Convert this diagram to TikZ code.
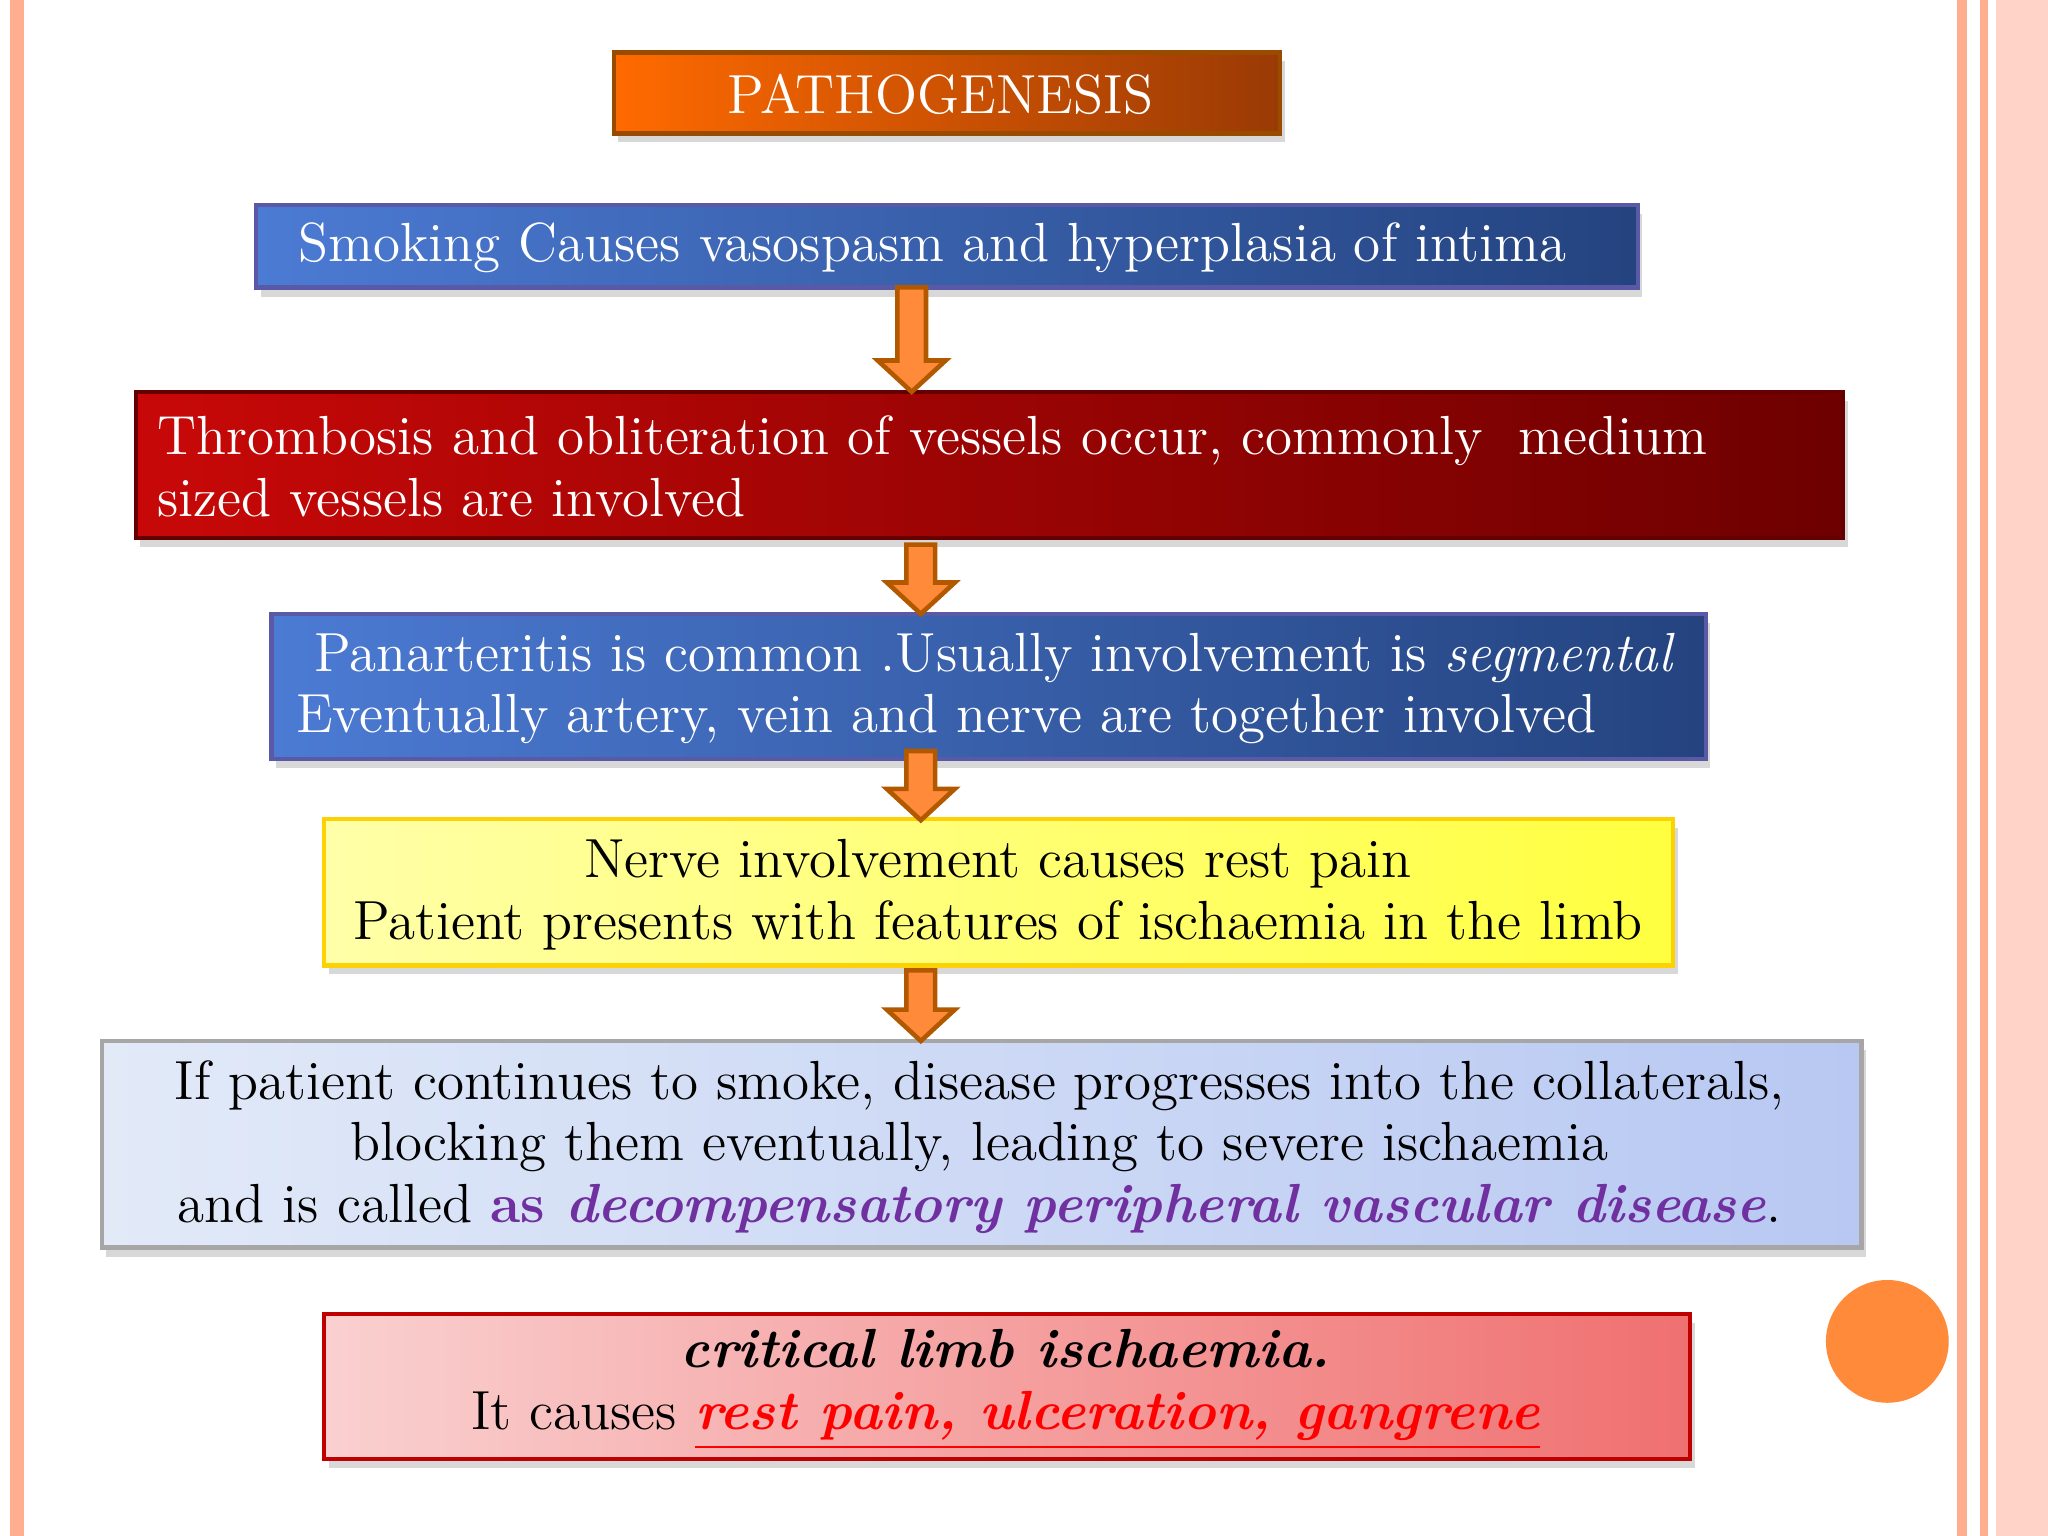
\documentclass[tikz,border=0pt]{standalone}
\usepackage{tikz}
\usetikzlibrary{shadows}
\begin{document}
\begin{tikzpicture}[x=0.01cm,y=-0.01cm,
 box/.style={draw=#1,line width=1pt,drop shadow={opacity=0.3,shadow xshift=1pt,shadow yshift=-2pt}},
 dn/.style={draw=orange!70!black,fill=orange!85!yellow,line width=1pt},
 txt/.style={font=\fontsize{12}{13.4}\selectfont,align=center,inner sep=0pt}]
\definecolor{pur}{HTML}{7030A0}
\definecolor{orA}{HTML}{FF6A00}\definecolor{orB}{HTML}{9A3A05}
\definecolor{blA}{HTML}{4C7BD4}\definecolor{blB}{HTML}{24437F}
\definecolor{rdA}{HTML}{C80808}\definecolor{rdB}{HTML}{6E0000}
\definecolor{yeA}{HTML}{FFFFA8}\definecolor{yeB}{HTML}{FFFF40}
\definecolor{lbA}{HTML}{E2EAF8}\definecolor{lbB}{HTML}{B8C8F2}
\definecolor{pkA}{HTML}{FAD0D0}\definecolor{pkB}{HTML}{F07070}
\definecolor{arr}{HTML}{FF8A3A}
\useasboundingbox (0,0) rectangle (1568,1176);
\fill[white] (0,0) rectangle (1568,1176);
\fill[orange!25!pink] (8,0) rectangle (18,1176);
\fill[orange!25!pink] (1498,0) rectangle (1506,1176);
\fill[orange!25!pink] (1516,0) rectangle (1522,1176);
\fill[orange!15!pink!60] (1528,0) rectangle (1568,1176);
\path[box=orange!60!black,left color=orA,right color=orB] (470,40) rectangle (980,102);
\node[txt,white] (t) at (720,72) {PATHOGENESIS};
\path[box=blue!30!gray,left color=blA,right color=blB] (196,157) rectangle (1254,220);
\node[txt,white] (b1) at (714,190) {Smoking Causes vasospasm and hyperplasia of intima};
\path[box=red!40!black,left color=rdA,right color=rdB] (104,300) rectangle (1411,412);
\node[txt,white,align=left,anchor=west] (b2) at (120,357) {Thrombosis and obliteration of vessels occur, commonly\ \ medium\\sized vessels are involved};
\path[box=blue!30!gray,left color=blA,right color=blB] (208,470) rectangle (1306,581);
\node[txt,white,align=left,anchor=west] (b3) at (226,527) {\ Panarteritis is common .Usually involvement is \textit{segmental}\\Eventually artery, vein and nerve are together involved};
\path[box=yellow!70!orange,left color=yeA,right color=yeB] (248,627) rectangle (1281,739);
\node[txt] (b4) at (764,685) {Nerve involvement causes rest pain\\Patient presents with features of ischaemia in the limb};
\path[box=gray!70,left color=lbA,right color=lbB] (78,797) rectangle (1425,955);
\node[txt] (b5) at (750,878) {If patient continues to smoke, disease progresses into the collaterals,\\blocking them eventually, leading to severe ischaemia\\and is called {\color{pur}\bfseries as \textit{decompensatory peripheral vascular disease}}.};
\path[box=red!75!black,left color=pkA,right color=pkB] (248,1006) rectangle (1294,1117);
\node[txt] (b6) at (770,1064) {\textbf{\textit{critical limb ischaemia.}}\\It causes {\color{red}\bfseries\itshape\underline{rest pain, ulceration, gangrene}}};
\foreach \xc/\ya/\yb in {698/220/300, 705/417/470, 705/575/628, 705/743/797}{
 \draw[dn,fill=arr] (\xc-11,\ya) -- (\xc+11,\ya) -- (\xc+11,\yb-24) -- (\xc+26,\yb-24) -- (\xc,\yb) -- (\xc-26,\yb-24) -- (\xc-11,\yb-24) -- cycle;}
\fill[arr] (1445,1027) circle (47);
\end{tikzpicture}
\end{document}
